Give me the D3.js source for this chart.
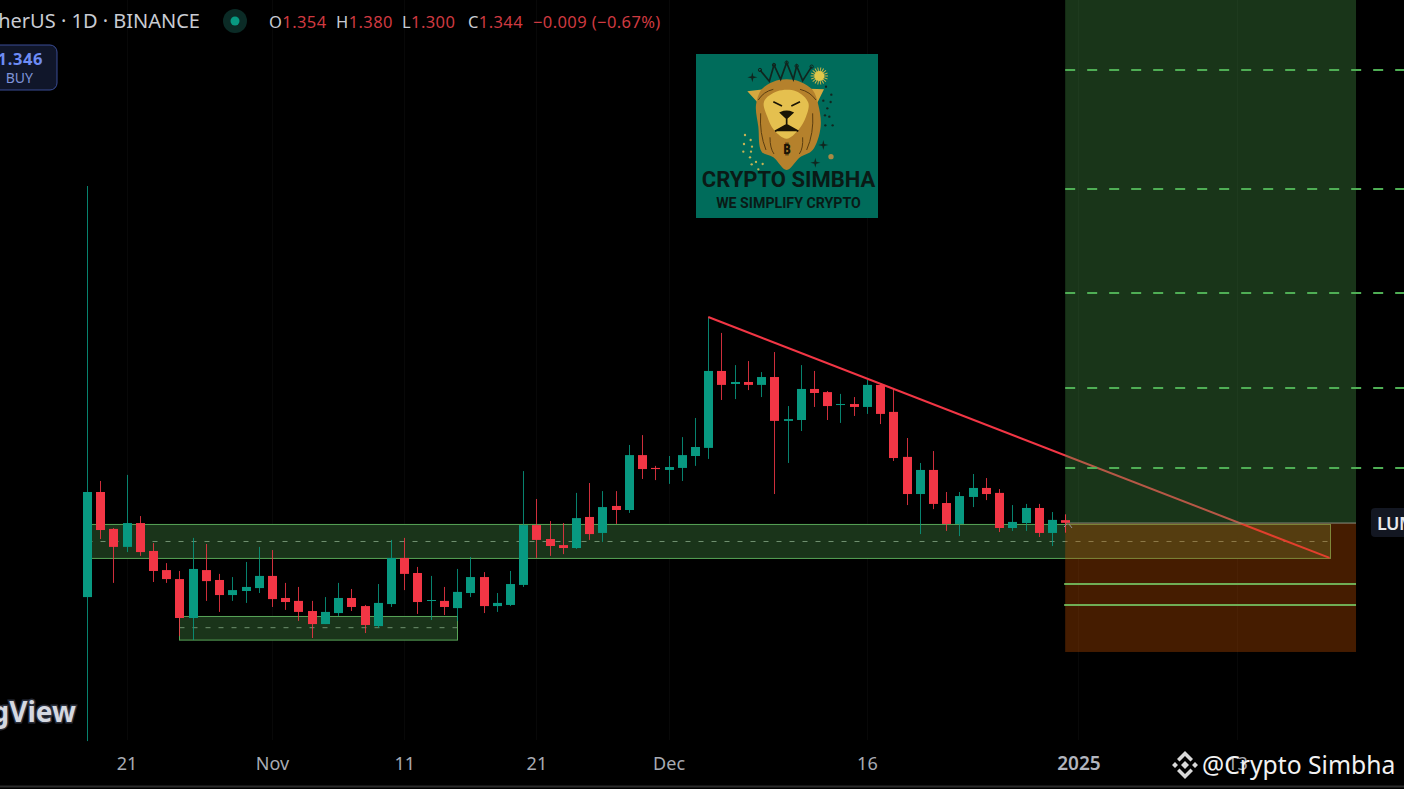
<!DOCTYPE html>
<html>
<head>
<title>LUMIA / TetherUS 1D</title>
<script src="https://d3js.org/d3.v7.min.js"></script>
<style>
    html, body { margin: 0; padding: 0; background: #000; overflow: hidden; }
    svg { display: block; }
    text { font-family: "Noto Sans", sans-serif; }
</style>
</head>
<body>
<svg id="chart" width="1404" height="789"></svg>
<script>
// daily candles (18 Oct -> 1 Jan)
const opens = [1.013,1.480,1.316,1.236,1.342,1.218,1.133,1.093,0.920,1.133,1.089,1.022,1.040,1.053,1.107,1.009,0.996,0.951,0.893,0.942,1.009,0.973,0.884,0.982,1.187,1.120,0.996,0.996,0.964,1.031,1.102,0.973,0.978,1.067,1.333,1.271,1.244,1.231,1.369,1.298,1.418,1.400,1.644,1.587,1.578,1.587,1.640,1.676,2.018,1.960,1.969,1.956,1.991,1.796,1.800,1.938,1.924,1.867,1.871,1.858,1.956,1.836,1.636,1.471,1.578,1.431,1.338,1.458,1.498,1.476,1.320,1.342,1.409,1.298,1.354];
const highs = [2.840,1.529,1.320,1.556,1.373,1.253,1.164,1.129,1.276,1.249,1.116,1.102,1.169,1.236,1.222,1.076,1.058,0.996,1.013,1.076,1.049,0.978,1.071,1.267,1.276,1.147,1.107,1.058,1.138,1.191,1.124,1.031,1.129,1.573,1.449,1.351,1.342,1.476,1.520,1.484,1.484,1.689,1.733,1.596,1.640,1.724,1.809,2.258,2.187,2.044,2.062,2.013,2.102,1.862,2.044,2.018,1.929,1.916,1.902,1.978,1.964,1.938,1.720,1.609,1.662,1.480,1.480,1.560,1.542,1.493,1.422,1.427,1.427,1.391,1.380];
const lows = [0.373,1.271,1.076,1.213,1.196,1.080,1.076,0.840,0.822,0.996,0.947,0.996,0.987,1.031,0.969,0.956,0.907,0.831,0.893,0.929,0.951,0.853,0.876,0.969,1.044,0.938,0.911,0.933,0.907,1.013,0.942,0.947,0.973,1.058,1.187,1.196,1.204,1.227,1.267,1.258,1.338,1.387,1.538,1.533,1.516,1.529,1.596,1.627,1.889,1.893,1.933,1.902,1.471,1.609,1.751,1.858,1.800,1.787,1.818,1.827,1.782,1.618,1.422,1.293,1.404,1.307,1.284,1.413,1.444,1.302,1.307,1.307,1.280,1.240,1.300];
const closes = [1.480,1.311,1.236,1.342,1.213,1.129,1.093,0.920,1.138,1.084,1.022,1.044,1.058,1.107,1.004,0.991,0.947,0.893,0.947,1.009,0.969,0.889,0.987,1.187,1.116,0.991,1.000,0.969,1.036,1.102,0.973,0.987,1.071,1.333,1.267,1.240,1.231,1.364,1.293,1.413,1.400,1.644,1.582,1.582,1.591,1.644,1.680,2.018,1.956,1.969,1.956,1.991,1.796,1.804,1.938,1.920,1.862,1.871,1.858,1.956,1.827,1.631,1.471,1.578,1.427,1.338,1.462,1.498,1.471,1.320,1.347,1.409,1.298,1.356,1.344];

// time axis labels, position = candle number
const tickIndex = [3, 14, 24, 34, 44, 59, 75, 87];
const tickLabels = ["21", "Nov", "11", "21", "Dec", "16", "2025", "13"];

// drawings on the chart: [fromBar, toBar, top price, mid price, bottom price]
const zoneMain = [0, 94, 1.338, 1.260, 1.187];
const zoneLow = [7, 28, 0.929, 0.877, 0.824];
const trendFrom = [47, 2.258];
const trendTo = [94, 1.187];

// long position tool
const posBars = [74, 96];
const posEntry = 1.342;
const posTop = 3.667;
const posStop = 0.769;
const targetLevels = [3.356, 2.827, 2.364, 1.942, 1.587];
const supportLevels = [1.071, 0.978];

const GREEN = "#089981", RED = "#f23645", ZONE = "#58a558";

const svg = d3.select("#chart");
const x = d3.scaleLinear([0, 100], [86.9, 1408.9]);
const y = d3.scaleLinear([0, 3.6667], [825, 0]);
const candles = opens.map((o, i) => ({ i, o, h: highs[i], l: lows[i], c: closes[i] }));
const px = v => Math.round(x(v)) + 0.5;

// faint grid + time axis
const axis = d3.axisBottom(x)
    .tickValues(tickIndex)
    .tickFormat((d, i) => tickLabels[i])
    .tickSize(0)
    .tickPadding(0);
const gAxis = svg.append("g").attr("transform", "translate(0,770)").call(axis);
gAxis.select(".domain").remove();
gAxis.selectAll("text")
    .attr("y", 0)
    .attr("dy", 0)
    .attr("fill", d => d == 75 ? "#b2b5be" : "#a8abb3")
    .attr("font-weight", d => d == 75 ? 600 : 400)
    .style("font-size", d => d == 75 ? "19px" : "18px");
svg.append("g").selectAll("line").data(tickIndex).join("line")
    .attr("x1", px).attr("x2", px).attr("y1", 0).attr("y2", 740)
    .attr("stroke", "#080808");
svg.append("line").attr("x1", 0).attr("x2", 1404).attr("y1", 786.5).attr("y2", 786.5)
    .attr("stroke", "#2b2b2b").attr("stroke-width", 2);

function drawZone(z) {
    const g = svg.append("g");
    g.append("rect")
        .attr("x", px(z[0])).attr("width", px(z[1]) - px(z[0]))
        .attr("y", y(z[2]) + 0.5).attr("height", y(z[4]) - y(z[2]))
        .attr("fill", "#1a341a").attr("stroke", ZONE).attr("stroke-width", 1);
    g.append("line")
        .attr("x1", px(z[0])).attr("x2", px(z[1]))
        .attr("y1", y(z[3])).attr("y2", y(z[3]))
        .attr("stroke", "#6f8f6f").attr("stroke-dasharray", "5 8");
}
drawZone(zoneMain);
drawZone(zoneLow);

function drawCandles(rows) {
    const g = svg.append("g").selectAll("g").data(rows).join("g")
        .attr("fill", d => d.c >= d.o ? GREEN : RED)
        .attr("stroke", d => d.c >= d.o ? GREEN : RED);
    g.append("line")
        .attr("x1", d => px(d.i)).attr("x2", d => px(d.i))
        .attr("y1", d => y(d.h)).attr("y2", d => y(d.l))
        .attr("stroke-opacity", 0.85);
    g.append("rect")
        .attr("x", d => px(d.i) - 4.5).attr("width", 9)
        .attr("y", d => y(Math.max(d.o, d.c)))
        .attr("height", d => Math.max(1, Math.abs(y(d.o) - y(d.c))))
        .attr("stroke", "none");
}
drawCandles(candles);

// trend line goes under the position tool, that is why it turns dull inside it
svg.append("line")
    .attr("x1", x(trendFrom[0])).attr("y1", y(trendFrom[1]))
    .attr("x2", x(trendTo[0])).attr("y2", y(trendTo[1]))
    .attr("stroke", RED).attr("stroke-width", 2);

svg.append("rect")
    .attr("x", x(posBars[0])).attr("width", x(posBars[1]) - x(posBars[0]))
    .attr("y", y(posTop)).attr("height", y(posEntry) - y(posTop))
    .attr("fill", "rgb(72,152,72)").attr("fill-opacity", 0.35);
svg.append("rect")
    .attr("x", x(posBars[0])).attr("width", x(posBars[1]) - x(posBars[0]))
    .attr("y", y(posEntry)).attr("height", y(posStop) - y(posEntry))
    .attr("fill", "rgb(197,80,0)").attr("fill-opacity", 0.35);
svg.append("line")
    .attr("x1", x(posBars[0])).attr("x2", x(posBars[1]))
    .attr("y1", y(posEntry)).attr("y2", y(posEntry))
    .attr("stroke", "#8b8f80");

drawCandles(candles.slice(-1));

// little grey cursor mark next to the last candle
svg.append("path").attr("d", "M1069 524 L1072 528 M1064 527 L1067 524")
    .attr("stroke", "#8d8f94").attr("fill", "none");

svg.append("g").selectAll("line").data(targetLevels).join("line")
    .attr("x1", x(posBars[0])).attr("x2", 1404)
    .attr("y1", y).attr("y2", y)
    .attr("stroke", "#4fae55").attr("stroke-width", 2)
    .attr("stroke-dasharray", "10 12");
svg.append("g").selectAll("line").data(supportLevels).join("line")
    .attr("x1", x(posBars[0]) - 1).attr("x2", x(posBars[1]))
    .attr("y1", y).attr("y2", y)
    .attr("stroke", "#6fae55").attr("stroke-width", 2);

// symbol label on the right
svg.append("rect").attr("x", 1371).attr("y", 508).attr("width", 60).attr("height", 29).attr("rx", 4)
    .attr("fill", "#131722");
svg.append("text").attr("x", 1377).attr("y", 530).text("LUMIA")
    .attr("fill", "#e8e9ec").attr("font-size", 18).attr("font-weight", 600).attr("letter-spacing", -0.6);

// header
svg.append("text").attr("x", 200).attr("y", 28).attr("text-anchor", "end")
    .text("LUMIA / TetherUS · 1D · BINANCE")
    .attr("fill", "#c9ccd3").attr("font-size", 20);
svg.append("circle").attr("cx", 235).attr("cy", 21).attr("r", 12).attr("fill", "#0b2b26");
svg.append("circle").attr("cx", 235).attr("cy", 21).attr("r", 4.5).attr("fill", GREEN);

const ohlcLabels = [["O", "1.354", 269], ["H", "1.380", 336], ["L", "1.300", 402], ["C", "1.344", 468]];
ohlcLabels.forEach(d => {
    const t = svg.append("text").attr("x", d[2]).attr("y", 28)
        .attr("font-size", 16.5).attr("letter-spacing", 0.4);
    t.append("tspan").text(d[0]).attr("fill", "#c9ccd3");
    t.append("tspan").text(d[1]).attr("fill", "#cf3a40");
});
svg.append("text").attr("x", 533).attr("y", 28).attr("font-size", 16.5).attr("letter-spacing", 0.4)
    .text("−0.009 (−0.67%)").attr("fill", "#cf3a40");

// buy button, cut by the left edge
svg.append("rect").attr("x", -30).attr("y", 45).attr("width", 87).attr("height", 45).attr("rx", 7)
    .attr("fill", "#10162a").attr("stroke", "#3a4d96");
svg.append("text").attr("x", 43).attr("y", 65).attr("text-anchor", "end").text("1.346")
    .attr("fill", "#6d8cf5").attr("font-size", 16.5).attr("font-weight", 700).attr("letter-spacing", 0.6);
svg.append("text").attr("x", 33).attr("y", 83).attr("text-anchor", "end").text("BUY")
    .attr("fill", "#7f93d8").attr("font-size", 14);

// watermark
svg.append("text").attr("x", 76).attr("y", 722).attr("text-anchor", "end").text("TradingView")
    .attr("fill", "#d5d8e0").attr("font-size", 28).attr("font-weight", 700)
    .attr("stroke", "#2a2e39").attr("stroke-width", 3).attr("paint-order", "stroke");

// logo, drawn in 3x zoom coordinates
svg.append("rect").attr("x", 696).attr("y", 54).attr("width", 182).attr("height", 164).attr("fill", "#006c5b");
const logo = svg.append("g").attr("transform", "translate(690,50) scale(0.3333)");
const blob = d3.line().curve(d3.curveCatmullRomClosed.alpha(0.5));
const maneShape = [[215, 118], [250, 95], [290, 88], [330, 95], [368, 120], [385, 165], [392, 230], [368, 300], [330, 322], [290, 360], [250, 322], [215, 305], [205, 230], [198, 165]];
const faceShape = [[222, 155], [262, 124], [318, 124], [355, 158], [348, 200], [325, 240], [290, 266], [252, 240], [232, 200]];
logo.append("path").attr("d", "M172 124 L222 118 L205 160 Z M402 118 L358 116 L382 158 Z").attr("fill", "#d6a83f");
logo.append("path").attr("d", blob(maneShape)).attr("fill", "#b5812c");
logo.append("path").attr("d", blob(faceShape)).attr("fill", "#e5c04f");
logo.append("path")
    .attr("d", "M250 155 L276 168 M330 155 L304 168 M272 188 Q290 180 308 188 L290 205 Z M290 205 L290 222 M255 244 L290 224 L325 244")
    .attr("fill", "#1a1405").attr("stroke", "#1a1405").attr("stroke-width", 5);
logo.append("path")
    .attr("d", "M212 190 Q208 250 228 300 M368 190 Q372 250 350 300 M240 262 Q240 295 252 312 M338 262 Q340 295 328 312 M205 150 Q220 125 250 118 M378 150 Q360 125 330 118")
    .attr("fill", "none").attr("stroke", "#5a3d10").attr("stroke-width", 3);
logo.append("path")
    .attr("d", "M210 60 L238 94 L252 45 L272 88 L290 38 L310 88 L320 48 L338 92 L365 50")
    .attr("fill", "none").attr("stroke", "#10261f").attr("stroke-width", 5);
logo.append("g").selectAll("circle").data([[210, 60], [252, 45], [290, 38], [320, 48], [365, 50]]).join("circle")
    .attr("cx", d => d[0]).attr("cy", d => d[1]).attr("r", 5)
    .attr("fill", "none").attr("stroke", "#10261f").attr("stroke-width", 3);
logo.append("g").selectAll("line").data(d3.range(0, 360, 20)).join("line")
    .attr("transform", d => `translate(388,78) rotate(${d})`)
    .attr("x1", 12).attr("x2", 26).attr("stroke", "#c9b548").attr("stroke-width", 3);
logo.append("circle").attr("cx", 388).attr("cy", 78).attr("r", 15).attr("fill", "#e0c84a");
logo.append("circle").attr("cx", 423).attr("cy", 320).attr("r", 8).attr("fill", "#a98a45");
logo.append("g").selectAll("path").data([[187, 82], [400, 285], [376, 338]]).join("path")
    .attr("transform", d => `translate(${d[0]},${d[1]})`)
    .attr("d", "M0 -15 L3 -3 L15 0 L3 3 L0 15 L-3 3 L-15 0 L-3 -3 Z")
    .attr("fill", "#10261f");
logo.append("g").selectAll("circle")
    .data([[408, 110], [424, 134], [400, 152], [422, 156], [412, 175], [405, 196], [418, 200], [406, 226], [428, 226]]).join("circle")
    .attr("cx", d => d[0]).attr("cy", d => d[1]).attr("r", 3.5).attr("fill", "#10261f");
logo.append("g").selectAll("circle")
    .data([[165, 255], [182, 270], [162, 282], [186, 290], [160, 305], [183, 305], [180, 322], [198, 336], [218, 342], [185, 343], [205, 358]]).join("circle")
    .attr("cx", d => d[0]).attr("cy", d => d[1]).attr("r", 3.5).attr("fill", "#c8b455");
logo.append("text").attr("x", 290).attr("y", 312).attr("text-anchor", "middle").text("₿")
    .attr("fill", "#1a1405").attr("font-size", 42).attr("font-weight", 700);
svg.append("text").attr("x", 788.5).attr("y", 187).attr("text-anchor", "middle").text("CRYPTO SIMBHA")
    .attr("fill", "#0a1a16").attr("font-size", 22).attr("font-weight", 700)
    .style("font-family", "Roboto");
svg.append("text").attr("x", 788.5).attr("y", 208).attr("text-anchor", "middle").text("WE SIMPLIFY CRYPTO")
    .attr("fill", "#0a1a16").attr("font-size", 14.2).attr("font-weight", 700)
    .style("font-family", "Roboto");

// bottom right stamp
const bnb = svg.append("g").attr("transform", "translate(1185,765)").attr("fill", "#d9d9d9");
bnb.append("path").attr("d", "M0 -4 L4 0 L0 4 L-4 0 Z");
bnb.append("path").attr("d", "M-10 -3 L-7 0 L-10 3 L-13 0 Z M10 -3 L13 0 L10 3 L7 0 Z");
bnb.append("path").attr("d", "M0 -14 L8 -6 L5.5 -3.5 L0 -9 L-5.5 -3.5 L-8 -6 Z M0 14 L8 6 L5.5 3.5 L0 9 L-5.5 3.5 L-8 6 Z");
svg.append("text").attr("x", 1202).attr("y", 774).text("@Crypto Simbha")
    .attr("fill", "#f2f2f2").attr("font-size", 24.7);
</script>
</body>
</html>
